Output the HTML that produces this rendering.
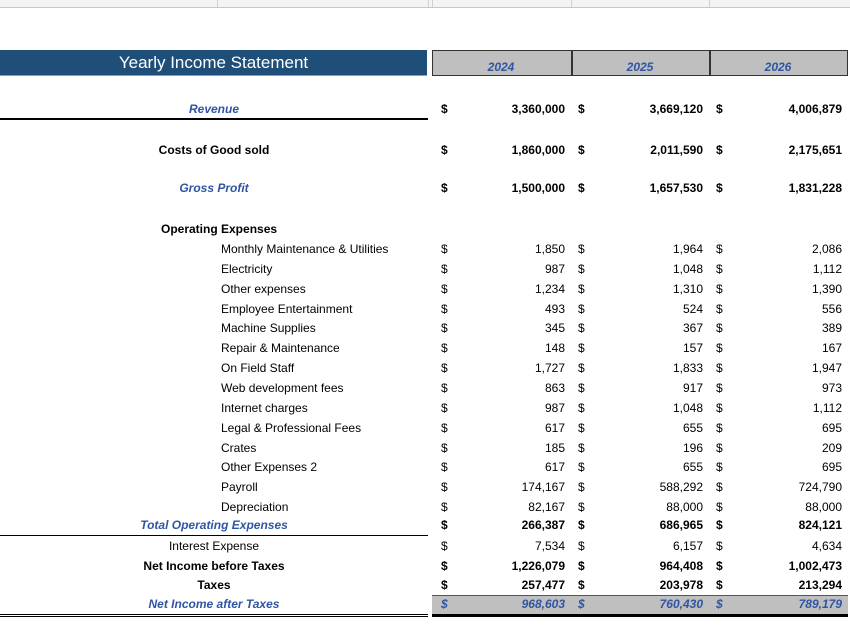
<!DOCTYPE html>
<html><head><meta charset="utf-8">
<style>
body{margin:0;background:#fff;}
#root{position:relative;width:850px;height:635px;overflow:hidden;font-family:"Liberation Sans",sans-serif;font-size:12px;color:#000;}
.a{position:absolute;white-space:nowrap;line-height:14px;}
.b{font-weight:bold;}
.bl{color:#2f55a4;font-style:italic;font-weight:bold;}
.r{text-align:right;}
</style></head>
<body>
<div id="root">
  <div class="a" style="left:0;top:0;width:850px;height:7px;background:#f4f4f4;border-bottom:1px solid #c8c8c8;"></div>
  <div class="a" style="left:217px;top:0;width:1px;height:7px;background:#d0d0d0"></div>
  <div class="a" style="left:428px;top:0;width:1px;height:7px;background:#d0d0d0"></div>
  <div class="a" style="left:432px;top:0;width:1px;height:7px;background:#d0d0d0"></div>
  <div class="a" style="left:571px;top:0;width:1px;height:7px;background:#d0d0d0"></div>
  <div class="a" style="left:709px;top:0;width:1px;height:7px;background:#d0d0d0"></div>

  <div class="a" style="left:0;top:50px;width:427px;height:25px;background:#1f4e79;border-bottom:1px solid #999;color:#fff;font-size:17px;line-height:25px;text-align:center;">Yearly Income Statement</div>
  <div class="a" style="left:432px;top:50px;width:414px;height:24px;background:#bfbfbf;border:1px solid #333;"></div>
</div>
<script>
const years = ["2024","2025","2026"];
const opLabels = ["Monthly Maintenance & Utilities","Electricity","Other expenses","Employee Entertainment","Machine Supplies","Repair & Maintenance","On Field Staff","Web development fees","Internet charges","Legal & Professional Fees","Crates","Other Expenses 2","Payroll","Depreciation"];
const op2024 = [1850,987,1234,493,345,148,1727,863,987,617,185,617,174167,82167];
const op2025 = [1964,1048,1310,524,367,157,1833,917,1048,655,196,655,588292,88000];
const op2026 = [2086,1112,1390,556,389,167,1947,973,1112,695,209,695,724790,88000];
const revenue = [3360000,3669120,4006879];
const cogs = [1860000,2011590,2175651];
const grossProfit = [1500000,1657530,1831228];
const totalOpex = [266387,686965,824121];
const interest = [7534,6157,4634];
const niBefore = [1226079,964408,1002473];
const taxes = [257477,203978,213294];
const niAfter = [968603,760430,789179];

const root = document.getElementById('root');
const dollarX = [441,578,716];
const valRight = [565,703,842];
const headerCenters = [501,640,778];

function add(cls, text, style, name){
  const d = document.createElement('div');
  d.className = 'a ' + cls;
  d.textContent = text;
  d.style.cssText = style;
  
  
  root.appendChild(d);
  return d;
}
function fmt(v){ return v.toLocaleString('en-US'); }

years.forEach((y,i)=>{
  add('bl', y, `left:${headerCenters[i]-40}px;top:60px;width:80px;text-align:center;font-size:12px;`, 'year-header');
});
[571,709].forEach(x=>{
  add('', '', `left:${x}px;top:50px;width:2px;height:26px;background:#333;`, 'year-header-divider');
});

function row(label, vals, y, lblStyle, cls, valCls){
  add(cls, label, lblStyle + `top:${y-7}px;`, 'row-label');
  vals.forEach((v,i)=>{
    add(valCls, '$', `left:${dollarX[i]}px;top:${y-7}px;`, 'dollar-sign');
    add(valCls+' r', fmt(v), `left:${valRight[i]-110}px;width:110px;top:${y-7}px;`, 'row-value');
  });
}
const center = 'left:0;width:428px;text-align:center;';
row('Revenue', revenue, 109, center, 'bl', 'b');
add('', '', 'left:0;top:118px;width:428px;height:2px;background:#000;', 'revenue-underline');
row('Costs of Good sold', cogs, 150, center, 'b', 'b');
row('Gross Profit', grossProfit, 188, center, 'bl', 'b');
add('b', 'Operating Expenses', 'left:161px;top:222px;', 'operating-expenses-header');
opLabels.forEach((l,k)=>{
  const y = 249 + k*19.85;
  row(l, [op2024[k],op2025[k],op2026[k]], y, 'left:221px;', '', '');
});
row('Total Operating Expenses', totalOpex, 525, center, 'bl', 'b');
add('', '', 'left:0;top:535px;width:428px;height:1px;background:#000;', 'opex-underline');
row('Interest Expense', interest, 546, center, '', '');
row('Net Income before Taxes', niBefore, 566, center, 'b', 'b');
row('Taxes', taxes, 585, center, 'b', 'b');
add('', '', 'left:432px;top:595px;width:416px;height:19px;background:#bfbfbf;border-top:1px solid #555;', 'net-income-band');
row('Net Income after Taxes', niAfter, 604, center, 'bl', 'bl');
add('', '', 'left:0;top:614px;width:428px;height:1px;background:#000;box-shadow:0 2px 0 #000;', 'net-income-double-line');
add('', '', 'left:432px;top:614px;width:416px;height:3px;background:#000;', 'net-income-values-line');
</script>
</body></html>
